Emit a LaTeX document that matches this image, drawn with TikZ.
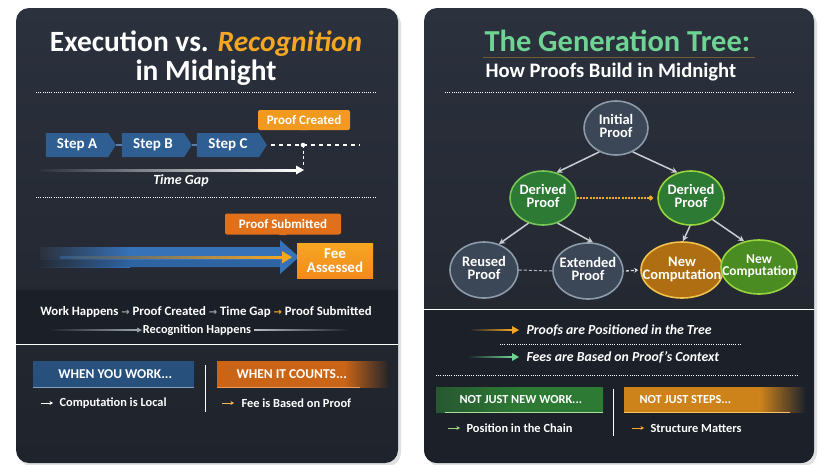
\documentclass[tikz,border=0pt]{standalone}
\usepackage{fontspec}
\setmainfont{Carlito}
\newfontfamily\symf{DejaVu Sans}
\usetikzlibrary{shapes.geometric,shapes.symbols,arrows.meta,calc}
\definecolor{panelA}{HTML}{2B313D}
\definecolor{panelB}{HTML}{1F232B}
\definecolor{bandC}{HTML}{1B1F27}
\definecolor{orangeT}{HTML}{F5A623}
\definecolor{orangeB}{HTML}{F29A1F}
\definecolor{orangeD}{HTML}{E0701A}
\definecolor{stepblue}{HTML}{2F5E93}
\definecolor{bigblue}{HTML}{3572B8}
\definecolor{greenT}{HTML}{6FD394}
\definecolor{gfill}{HTML}{2D7A34}
\definecolor{gedge}{HTML}{76C657}
\definecolor{grfill}{HTML}{3B4656}
\definecolor{gredge}{HTML}{8C9BAA}
\definecolor{ofill}{HTML}{AF6E12}
\definecolor{oedge}{HTML}{F2C14A}
\definecolor{lgfill}{HTML}{4A8B22}
\definecolor{lgedge}{HTML}{98D43C}
\definecolor{arrg}{HTML}{C9CDD2}
\definecolor{txtg}{HTML}{9AA3AD}
\newcommand\etx[2]{\makebox[0pt]{\begin{tabular}{@{}c@{}}#1\\[-1.5pt]#2\end{tabular}}}
\tikzset{
  panel/.style={rounded corners=13pt},
  bf/.style={font=\bfseries\fontsize{#1}{#1}\selectfont},
  stepbox/.style={signal, signal to=east, signal pointer angle=115, fill=stepblue, text=white, bf=15, minimum width=70pt, minimum height=24pt, inner sep=2pt},
  tag/.style={rounded corners=2pt, text=white, bf=13, inner sep=0pt},
  enode/.style={ellipse, line width=1.6pt, text=white, bf=14.5, inner sep=0pt, minimum width=#1},
  tarrow/.style={draw=arrg, line width=1.5pt, -{Stealth[length=6pt,width=6pt]}},
  head/.style={text=white, bf=13.5, anchor=west},
  item/.style={text=white, bf=12.4, anchor=west},
  sep/.style={draw=white!35, line width=0.5pt, dash pattern=on 1pt off 1.2pt},
}
\begin{document}
\begin{tikzpicture}[x=1pt,y=-1pt]
\useasboundingbox (0,0) rectangle (828,464);
\fill[white] (0,0) rectangle (828,464);
% ---------- shadows
\fill[black!12, panel] (18,11) rectangle (401,466);
\fill[black!12, panel] (426,11) rectangle (817,466);
% ---------- left panel
\shade[panel, top color=panelA, bottom color=panelB] (16,8) rectangle (398,463);
\begin{scope}
\clip[panel] (16,8) rectangle (398,463);
\fill[bandC] (16,290) rectangle (398,344);
\draw[white!18, line width=0.6pt] (16,344.5) -- (398,344.5);
\end{scope}
\node[text=white, bf=29.4, anchor=base] (t1) at (206,51) {Execution vs. \textcolor{orangeT}{\itshape Recognition}};
\node[text=white, bf=29.4, anchor=base] (t2) at (206,80) {in Midnight};
\draw[sep] (36,92) -- (375,92);
% steps
\node[stepbox] (sa) at (77,145) {Step A};
\node[stepbox] (sb) at (153,145) {Step B};
\node[stepbox] (sc) at (228,145) {Step C};
\draw[stepblue!80, line width=1.5pt] (sa.east) -- (sb.west);
\draw[stepblue!80, line width=1.5pt] (sb.east) -- (sc.west);
\coordinate (pcdot) at (303,145);
\coordinate (dashend) at (360,145);
\coordinate (vdown) at (303,167);
\draw[white!75, line width=1.2pt, dash pattern=on 4pt off 4pt] ([xshift=4pt]sc.east) -- (dashend);
\draw[white!60, line width=1pt, dash pattern=on 3pt off 2.5pt] (pcdot) -- (vdown);
\fill[white] (pcdot) circle (2.3pt);
\node[tag, fill=orangeB, minimum width=92pt, minimum height=20pt] (pc) at (304,120) {Proof Created};
\fill[orangeB] ([xshift=-4pt]pc.south) -- ([yshift=5pt]pc.south) -- ([xshift=4pt]pc.south) -- cycle;
% time gap
\shade[left color=panelA, middle color=orangeT!75!red, right color=white!80] (40,169) rectangle (297,171.2);
\fill[white!80] (296,165.5) -- (304,170) -- (296,174.5) -- cycle;
\node[text=white, font=\bfseries\itshape\fontsize{14}{14}\selectfont] (tg) at (181,181) {Time Gap};
\draw[sep] (36,197) -- (375,197);
% proof submitted
\node[tag, fill=orangeD, minimum width=116pt, minimum height=21pt] (ps) at (283,224) {Proof Submitted};
\fill[orangeD] ([xshift=-4pt,yshift=-0.5pt]ps.south) -- ([yshift=5pt]ps.south) -- ([xshift=4pt,yshift=-0.5pt]ps.south) -- cycle;
% big arrow
\shade[left color=panelA, right color=bigblue] (40,247) rectangle (130,267);
\fill[bigblue] (129.5,247) -- (280,247) -- (280,240) -- (299,257) -- (280,274) -- (280,267) -- (129.5,267) -- cycle;
\fill[black, opacity=0.12] (40,260) -- (280,260) -- (280,267) -- (40,267) -- cycle;
\shade[left color=bigblue!60!panelA, right color=orangeT] (60,256) rectangle (284,258.4);
\fill[orangeT] (282,251) -- (292,257.2) -- (282,263.4) -- cycle;
\node[top color=orangeT, bottom color=orangeB!90!red, text=white, bf=15, align=center, minimum width=76pt, minimum height=35pt, inner sep=0pt] (fee) at (335,260.5) {Fee\\[-1pt]Assessed};
% flow text
\node[text=white, bf=12.8] (flow) at (206,312) {Work Happens {\symf\color{txtg}\fontsize{10}{10}\selectfont →} Proof Created {\symf\color{txtg}\fontsize{10}{10}\selectfont →} Time Gap {\symf\color{orangeT}\fontsize{10}{10}\selectfont →} Proof Submitted};
\node[text=white, bf=12.3] (rec) at (197,330) {Recognition Happens};
\shade[left color=bandC, right color=txtg] (48,329.5) rectangle (138,330.5);
\fill[txtg] (137,327.5) -- (142,330) -- (137,332.5) -- cycle;
\shade[left color=txtg!70, right color=bandC] (254,329.5) rectangle (350,330.5);
% when boxes
\node[fill=stepblue!85!black, minimum width=161pt, minimum height=26pt, inner sep=0pt] (wyw) at (113.5,374) {};
\draw[stepblue!60!white, line width=1pt] (wyw.south west) -- (wyw.south east);
\node[head] at ([xshift=22pt]wyw.west) {WHEN YOU WORK...};
\fill[orangeD!90!black] (217,361) rectangle (345,387);
\shade[left color=orangeD!90!black, right color=panelB] (344.5,361) rectangle (390,387);
\coordinate (wic) at (217,374);
\draw[orangeD!70!white, line width=0.8pt] (217,387) -- (360,387);
\node[head] at ([xshift=16pt]wic) {WHEN IT COUNTS...};
\draw[white!15, line width=0.5pt] (205,365) -- (205,412);
\coordinate (i1) at (41,403);
\draw[white!45, line width=1pt, -{Stealth[length=3.5pt,width=4pt]}] (i1) -- ++(12,0);
\node[item] at ([xshift=15pt]i1) {Computation is Local};
\coordinate (i2) at (222,403);
\draw[orangeT!80, line width=1pt, -{Stealth[length=3.5pt,width=4pt]}] (i2) -- ++(12,0);
\node[item] at ([xshift=16pt]i2) {Fee is Based on Proof};
% ---------- right panel
\shade[panel, top color=panelA, bottom color=panelB] (424,8) rectangle (814,463);
\begin{scope}
\clip[panel] (424,8) rectangle (814,463);
\fill[bandC!70!panelB] (424,309) rectangle (814,463);
\draw[white!12, line width=0.6pt] (424,309.5) -- (814,309.5);
\end{scope}
\node[text=greenT, bf=30.5, anchor=base west] (t3) at (481,51) {The Generation Tree:};
\draw[orangeT!35!panelA, line width=0.6pt] (483,57) -- (755,57);
\node[text=white, bf=20.6, anchor=base west] (t4) at (482,77) {How Proofs Build in Midnight};
\draw[sep] (445,92) -- (793,92);
% tree nodes
\node[enode=64pt, minimum height=54pt, fill=grfill, draw=gredge] (ip) at (616,128) {\etx{Initial}{Proof}};
\node[enode=66pt, minimum height=54pt, fill=gfill, draw=gedge] (dl) at (543,198) {\etx{Derived}{Proof}};
\node[enode=66pt, minimum height=54pt, fill=gfill, draw=lgedge] (dr) at (691,198) {\etx{Derived}{Proof}};
\node[enode=68pt, minimum height=56pt, fill=grfill, draw=gredge] (rp) at (484,270) {\etx{Reused}{Proof}};
\node[enode=70pt, minimum height=56pt, fill=grfill, draw=gredge] (ep) at (588,271) {\etx{Extended}{Proof}};
\node[enode=82pt, minimum height=56pt, fill=ofill, draw=oedge] (nc1) at (682,270) {\etx{New}{Computation}};
\node[enode=76pt, minimum height=54pt, fill=lgfill, draw=lgedge, bf=13.5] (nc2) at (759,267) {\etx{New}{Computation}};
\draw[tarrow] (ip.-125) -- (dl.62);
\draw[tarrow] (ip.-55) -- (dr.118);
\draw[orangeT, line width=1.2pt, dash pattern=on 2pt off 1.2pt, -{Circle[length=5pt]}] (dl.east) -- ([xshift=-4pt]dr.west);
\draw[tarrow] (dl.-120) -- (rp.60);
\draw[tarrow] (dl.-60) -- (ep.80);
\draw[tarrow] (dr.-92) -- (nc1.88);
\draw[tarrow] (dr.-45) -- (nc2.120);
\draw[gredge!70, line width=1pt, dash pattern=on 3pt off 2pt] (rp.east) -- (ep.west);
\draw[arrg!70, line width=1.3pt, dash pattern=on 3pt off 2pt, -{Stealth[length=4pt,width=5pt]}] ([xshift=2pt]ep.east) -- ([xshift=-2pt]nc1.west);
% legend
\coordinate (l1) at (470,330);
\shade[left color=panelB, right color=orangeT] (470,329.3) rectangle (513,330.8);
\fill[orangeT] (512,326) -- (519,330) -- (512,334) -- cycle;
\node[text=white, font=\bfseries\itshape\fontsize{13.8}{13.8}\selectfont, anchor=west] at ([xshift=53pt]l1) {Proofs are Positioned in the Tree};
\draw[white!20, line width=0.5pt, dash pattern=on 1pt off 1.2pt] (500,344) -- (740,344);
\coordinate (l2) at (468,357);
\shade[left color=panelB, right color=greenT] (468,356.3) rectangle (513,357.8);
\fill[greenT] (512,353) -- (519,357) -- (512,361) -- cycle;
\node[text=white, font=\bfseries\itshape\fontsize{13.8}{13.8}\selectfont, anchor=west] at ([xshift=55pt]l2) {Fees are Based on Proof’s Context};
\draw[sep] (436,375) -- (797,375);
% bottom boxes
\shade[left color=gfill!60!panelB, right color=gfill, middle color=gfill] (436,387) rectangle (603,412);
\coordinate (nj1) at (436,399.5);
\draw[gedge!60, line width=0.8pt] (445,412) -- (603,412);
\node[head, bf=12.3] at ([xshift=20pt]nj1) {NOT JUST NEW WORK...};
\fill[orangeB!85!black] (624,387) rectangle (760,412);
\shade[left color=orangeB!85!black, right color=panelB] (759.5,387) rectangle (805,412);
\coordinate (nj2) at (624,399.5);
\draw[orangeT!70, line width=0.8pt] (624,412) -- (790,412);
\node[head, bf=12.3] at ([xshift=12pt]nj2) {NOT JUST STEPS...};
\draw[white!15, line width=0.5pt] (613,389) -- (613,436);
\coordinate (i3) at (448,428);
\draw[gedge!70, line width=1pt, -{Stealth[length=3.5pt,width=4pt]}] (i3) -- ++(12,0);
\node[item] at ([xshift=15pt]i3) {Position in the Chain};
\coordinate (i4) at (632,428);
\draw[orangeT, line width=1pt, -{Stealth[length=3.5pt,width=4pt]}] (i4) -- ++(12,0);
\node[item] at ([xshift=15pt]i4) {Structure Matters};
\end{tikzpicture}
\end{document}
